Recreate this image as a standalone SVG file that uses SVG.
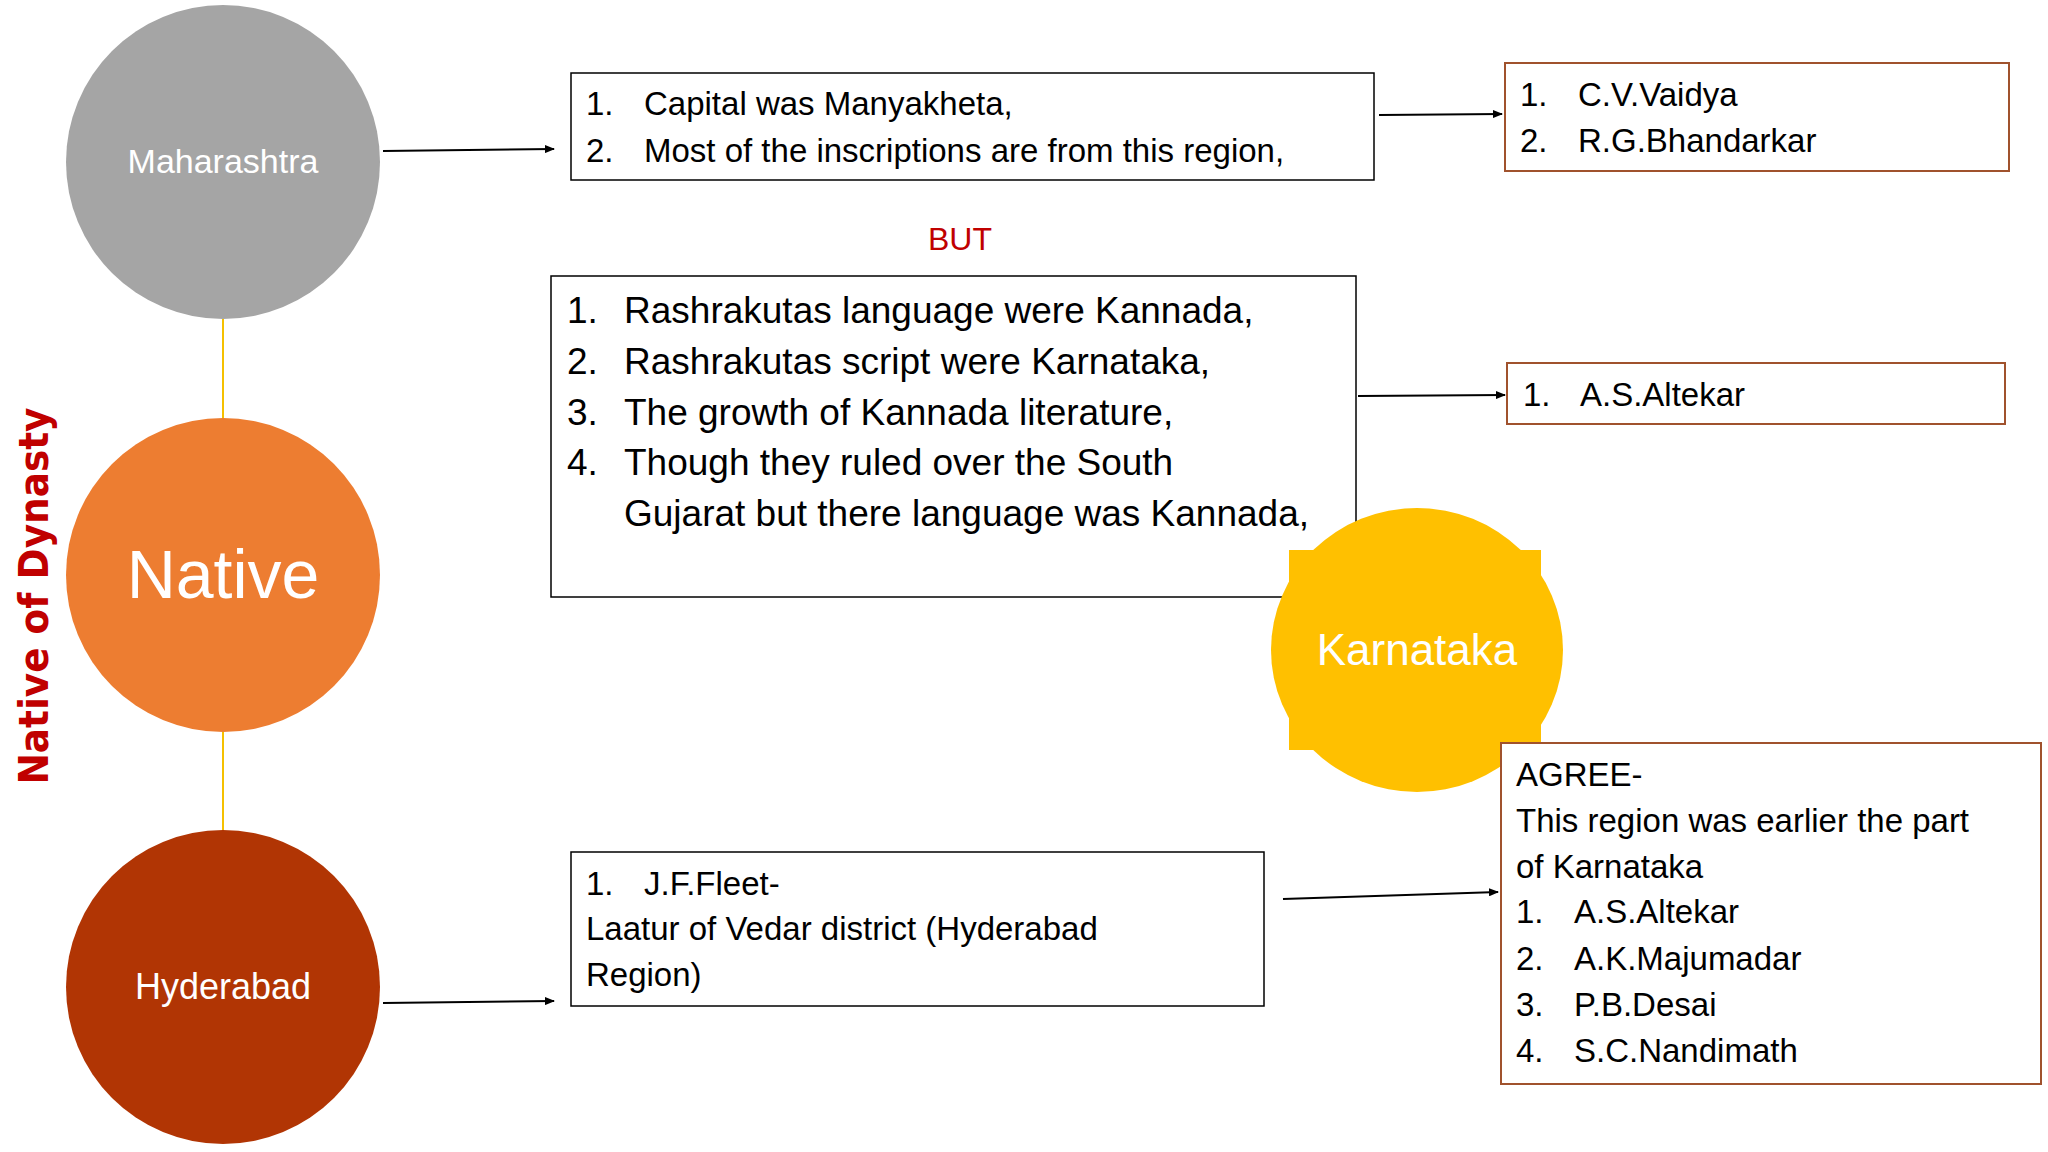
<svg xmlns="http://www.w3.org/2000/svg" width="2048" height="1152" viewBox="0 0 2048 1152">
<defs>
<marker id="ah" markerWidth="10" markerHeight="8" refX="9" refY="4" orient="auto" markerUnits="userSpaceOnUse"><path d="M0,0 L10,4 L0,8 z" fill="#000"/></marker>
<style>
text{font-family:"Liberation Sans",Arial,sans-serif}
.t{font-size:33px;fill:#000}
.tb{font-size:37px;fill:#000}
.w{fill:#fff;text-anchor:middle}
.bx{fill:#fff;stroke:#000;stroke-width:1.5}
.bb{fill:#fff;stroke:#a0522d;stroke-width:2}
.c{stroke:#000;stroke-width:2;fill:none;marker-end:url(#ah)}
</style>
</defs>
<rect width="2048" height="1152" fill="#fff"/>
<g id="spine"><line x1="223" y1="319" x2="223" y2="418" stroke="#f5c000" stroke-width="2"/><line x1="223" y1="732" x2="223" y2="830" stroke="#f5c000" stroke-width="2"/></g>
<text x="48" y="596" transform="rotate(-90 48 596)" text-anchor="middle" textLength="377" lengthAdjust="spacingAndGlyphs" style="font-size:40px;font-weight:bold;fill:#c00000;font-family:'DejaVu Sans',sans-serif">Native of Dynasty</text>
<g id="maharashtra"><circle cx="223" cy="162" r="157" fill="#a5a5a5"/><text class="w" x="223" y="173" style="font-size:34px">Maharashtra</text></g>
<g id="native"><circle cx="223" cy="575" r="157" fill="#ed7d31"/><text class="w" x="223" y="598" style="font-size:68px">Native</text></g>
<g id="hyderabad"><circle cx="223" cy="987" r="157" fill="#b13504"/><text class="w" x="223" y="999" style="font-size:36px">Hyderabad</text></g>
<g id="box1"><rect class="bx" x="571" y="73" width="803" height="107"/><text class="t" x="586" y="115">1.</text><text class="t" x="644" y="115">Capital was Manyakheta,</text><text class="t" x="586" y="162">2.</text><text class="t" x="644" y="162">Most of the inscriptions are from this region,</text></g>
<g id="box2"><rect class="bb" x="1505" y="63" width="504" height="108"/><text class="t" x="1520" y="106">1.</text><text class="t" x="1578" y="106">C.V.Vaidya</text><text class="t" x="1520" y="152">2.</text><text class="t" x="1578" y="152">R.G.Bhandarkar</text></g>
<text x="960" y="250" text-anchor="middle" style="font-size:32px;fill:#c00000">BUT</text>
<g id="box3"><rect class="bx" x="551" y="276" width="805" height="321"/>
<text class="tb" x="567" y="323">1.</text><text class="tb" x="624" y="323">Rashrakutas language were Kannada,</text>
<text class="tb" x="567" y="374">2.</text><text class="tb" x="624" y="374">Rashrakutas script were Karnataka,</text>
<text class="tb" x="567" y="425">3.</text><text class="tb" x="624" y="425">The growth of Kannada literature,</text>
<text class="tb" x="567" y="475">4.</text><text class="tb" x="624" y="475">Though they ruled over the South</text>
<text class="tb" x="624" y="526">Gujarat but there language was Kannada,</text></g>
<g id="box4"><rect class="bb" x="1507" y="363" width="498" height="61"/><text class="t" x="1523" y="406">1.</text><text class="t" x="1580" y="406">A.S.Altekar</text></g>
<g id="karnataka"><rect x="1289" y="550" width="252" height="200" fill="#ffc000"/><ellipse cx="1417" cy="650" rx="146" ry="142" fill="#ffc000"/><text class="w" x="1417" y="665" style="font-size:44px">Karnataka</text></g>
<g id="box5"><rect class="bb" x="1501" y="743" width="540" height="341" fill="none"/>
<text class="t" x="1516" y="786">AGREE-</text>
<text class="t" x="1516" y="832">This region was earlier the part</text>
<text class="t" x="1516" y="878">of Karnataka</text>
<text class="t" x="1516" y="923">1.</text><text class="t" x="1574" y="923">A.S.Altekar</text>
<text class="t" x="1516" y="970">2.</text><text class="t" x="1574" y="970">A.K.Majumadar</text>
<text class="t" x="1516" y="1016">3.</text><text class="t" x="1574" y="1016">P.B.Desai</text>
<text class="t" x="1516" y="1062">4.</text><text class="t" x="1574" y="1062">S.C.Nandimath</text></g>
<g id="box6"><rect class="bx" x="571" y="852" width="693" height="154"/><text class="t" x="586" y="895">1.</text><text class="t" x="644" y="895">J.F.Fleet-</text><text class="t" x="586" y="940">Laatur of Vedar district (Hyderabad</text><text class="t" x="586" y="986">Region)</text></g>
<g id="connectors">
<line class="c" x1="383" y1="151" x2="554" y2="149"/>
<line class="c" x1="1379" y1="115" x2="1502" y2="114"/>
<line class="c" x1="1358" y1="396" x2="1505" y2="395"/>
<line class="c" x1="383" y1="1003" x2="554" y2="1001"/>
<line class="c" x1="1283" y1="899" x2="1498" y2="892"/>
</g>
</svg>
